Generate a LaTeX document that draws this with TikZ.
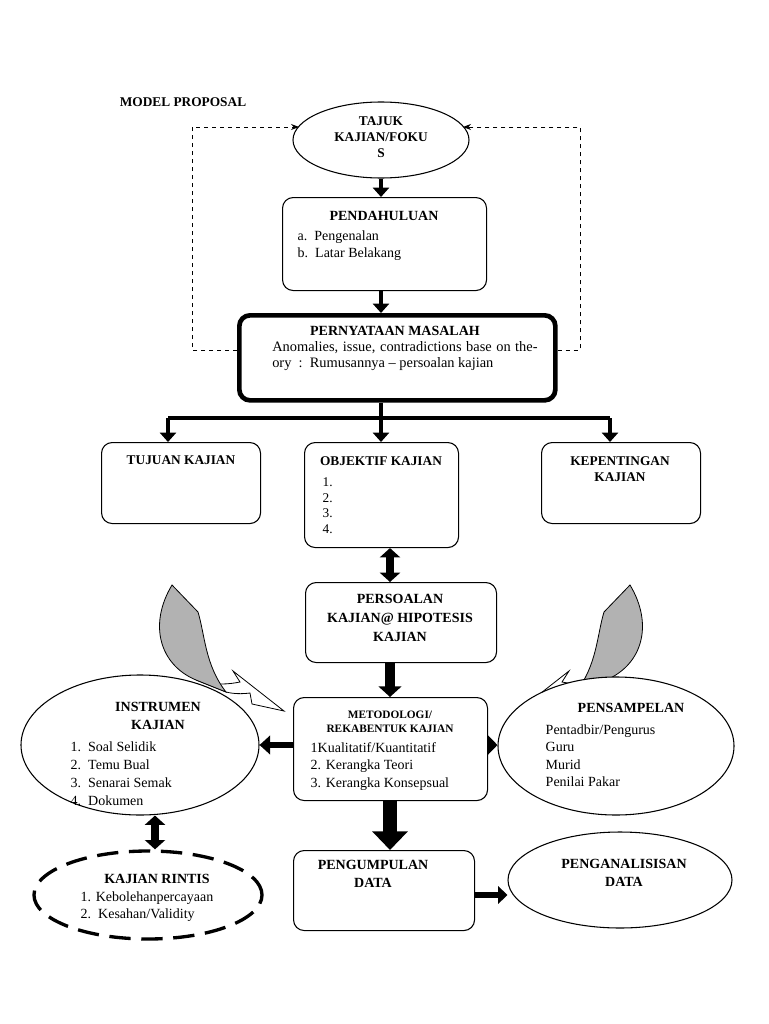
\documentclass[tikz,border=0pt]{standalone}
\usepackage{fontspec}
\setmainfont{Liberation Serif}
\usetikzlibrary{shapes.geometric,arrows.meta}
\begin{document}
\begin{tikzpicture}[x=0.75pt,y=-0.75pt,
 box/.style={draw,rounded corners=8pt,line width=0.8pt,align=center,anchor=north west,inner sep=0pt},
 ell/.style={draw,ellipse,line width=0.8pt,inner sep=0pt},
 hd/.style={font=\bfseries\fontsize{10}{12}\selectfont,align=center},
 tx/.style={font=\fontsize{10.5}{12.5}\selectfont,align=left},
 thk/.style={line width=3pt,-{Triangle[length=7pt,width=12pt]}},
 fat/.style={line width=7pt,-{Triangle[length=8pt,width=17pt]}},
 dfat/.style={line width=6pt,{Triangle[length=7pt,width=15pt]}-{Triangle[length=7pt,width=15pt]}},
 dsh/.style={dashed,line width=0.6pt,-{Stealth[length=6pt]}}]
\useasboundingbox (0,0) rectangle (768,1024);
\node[font=\bfseries\fontsize{10}{12}\selectfont] (mp) at (183,102) {MODEL PROPOSAL};
% title ellipse
\node[ell,minimum width=132pt,minimum height=57pt] (tajuk) at (381,140) {};
\node[hd] at (381,137) {TAJUK\\KAJIAN/FOKU\\S};
\node[box,minimum width=153pt,minimum height=69.75pt] (pend) at (282,197) {};
\node[hd,font=\bfseries\fontsize{10.5}{12}\selectfont] at (384,216) {PENDAHULUAN};
\node[tx,anchor=north west] at (293,226) {a.\ \ Pengenalan\\b.\ \ Latar Belakang};
\node[box,line width=3.5pt,minimum width=237pt,minimum height=63.75pt] (pern) at (237,313) {};
\node[hd,font=\bfseries\fontsize{10.5}{12}\selectfont] at (395,331) {PERNYATAAN MASALAH};
\node[font=\fontsize{10.8}{12.5}\selectfont,text width=199pt,align=justify,anchor=north west,inner sep=0pt] at (272,341) {Anomalies, issue, contradictions base on theory\ \ :\ \ Rumusannya – persoalan kajian};
% dashed feedback
\coordinate (dl) at (192,350); \coordinate (dr) at (580,350);
\coordinate (tl) at (299,127); \coordinate (tr) at (463,127);
\draw[dsh] (pern.west|-dl) -- (dl) -- (dl|-tl) -- (tl);
\draw[dsh] (pern.east|-dr) -- (dr) -- (dr|-tr) -- (tr);
\draw[thk] (tajuk.south) -- (tajuk.south|-pend.north);
\draw[thk] (pend.south-|tajuk.south) -- (tajuk.south|-pern.north);
% three boxes
\node[box,minimum width=119.25pt,minimum height=60.75pt] (tuj) at (101,442) {};
\node[hd] at (181,460) {TUJUAN KAJIAN};
\node[box,minimum width=115.5pt,minimum height=78.75pt] (obj) at (304,442) {};
\node[hd] at (381,461) {OBJEKTIF KAJIAN};
\node[tx,anchor=north west,font=\fontsize{10}{11.7}\selectfont] at (318,473) {1.\\2.\\3.\\4.};
\node[box,minimum width=119.25pt,minimum height=60.75pt] (kep) at (541,442) {};
\node[hd] at (620,469) {KEPENTINGAN\\KAJIAN};
\coordinate (j) at (381,418);
\draw[line width=3pt] (pern.south-|j) -- (j);
\draw[line width=3pt] (168,418) -- (610,418);
\draw[thk] (168,418) -- (tuj.north-|168,0);
\draw[thk] (j) -- (obj.north-|j);
\draw[thk] (610,418) -- (kep.north-|610,0);
% persoalan
\node[box,minimum width=143.25pt,minimum height=60pt] (pers) at (305,582) {};
\node[hd,font=\bfseries\fontsize{10.5}{14}\selectfont] at (400,618) {PERSOALAN\\KAJIAN@ HIPOTESIS\\KAJIAN};
\draw[dfat] (obj.south-|390,0) -- (pers.north-|390,0);
% metodologi
\node[box,minimum width=145.5pt,minimum height=77.25pt] (met) at (293,697) {};
\node[hd,font=\bfseries\fontsize{8.5}{10.5}\selectfont] at (390,722) {METODOLOGI/\\REKABENTUK KAJIAN};
\node[tx,anchor=north west,font=\fontsize{10.5}{13}\selectfont] at (306,738) {1Kualitatif/Kuantitatif\\2. Kerangka Teori\\3. Kerangka Konsepsual};
\draw[fat] (pers.south-|390,0) -- (met.north-|390,0);
% curved arrows
\foreach \s/\sh in {1/0,-1/802}{
\begin{scope}[shift={(\sh,0)},xscale=\s]
\draw[fill=white,line width=0.6pt] (196,680) .. controls (215,686) and (230,684) .. (240,682) -- (233,671) -- (284,711) -- (252,704) -- (250,693) .. controls (242,694) and (234,694) .. (226,692) -- cycle;
\draw[fill=gray!60,line width=0.6pt] (172,585) .. controls (148,625) and (160,665) .. (196,680) -- (226,692) .. controls (205,665) and (205,635) .. (198,612) -- cycle;
\end{scope}}
% instrumen
\node[ell,fill=white,minimum width=178.5pt,minimum height=105pt] (ins) at (140,745) {};
\node[hd,font=\bfseries\fontsize{10.5}{14}\selectfont] at (158,716) {INSTRUMEN\\KAJIAN};
\node[tx,anchor=north west,font=\fontsize{10.5}{13.5}\selectfont] at (66,737) {1.\ \ Soal Selidik\\2.\ \ Temu Bual\\3.\ \ Senarai Semak\\4.\ \ Dokumen};
\node[ell,fill=white,minimum width=177pt,minimum height=103.5pt] (pen) at (616,746) {};
\node[hd,font=\bfseries\fontsize{10.5}{12}\selectfont] at (631,708) {PENSAMPELAN};
\node[tx,anchor=north west,font=\fontsize{10.5}{13}\selectfont] at (541,720) {Pentadbir/Pengurus\\Guru\\Murid\\Penilai Pakar};
\draw[line width=5pt,-{Triangle[length=8pt,width=14pt]}] (met.west|-0,745) -- (ins.east|-0,745);
\draw[line width=5pt,-{Triangle[length=7pt,width=14pt]}] (met.east|-0,745) -- (pen.west|-0,745);
% rintis
\node[ell,dashed,dash pattern=on 16pt off 8pt,line width=2.5pt,minimum width=171pt,minimum height=66pt] (rin) at (148,895) {};
\node[hd,font=\bfseries\fontsize{10.5}{12}\selectfont] at (157,879) {KAJIAN RINTIS};
\node[tx,anchor=north west,font=\fontsize{10.5}{12.5}\selectfont] at (76,887) {1. Kebolehanpercayaan\\2.\ \ Kesahan/Validity};
\draw[dfat] (ins.south-|155,0) -- (rin.north-|155,0);
% pengumpulan
\node[box,minimum width=135.75pt,minimum height=60pt] (peng) at (293,850) {};
\node[hd,font=\bfseries\fontsize{10.5}{14}\selectfont] at (373,874) {PENGUMPULAN\\DATA};
\draw[line width=11pt,-{Triangle[length=14pt,width=26pt]}] (met.south-|390,0) -- (peng.north-|390,0);
\node[ell,minimum width=168pt,minimum height=72pt] (ana) at (620,880) {};
\node[hd,font=\bfseries\fontsize{10.5}{14}\selectfont] at (624,873) {PENGANALISISAN\\DATA};
\draw[line width=4pt,-{Triangle[length=7pt,width=13pt]}] (peng.east|-0,895) -- (ana.west|-0,895);
\end{tikzpicture}
\end{document}
